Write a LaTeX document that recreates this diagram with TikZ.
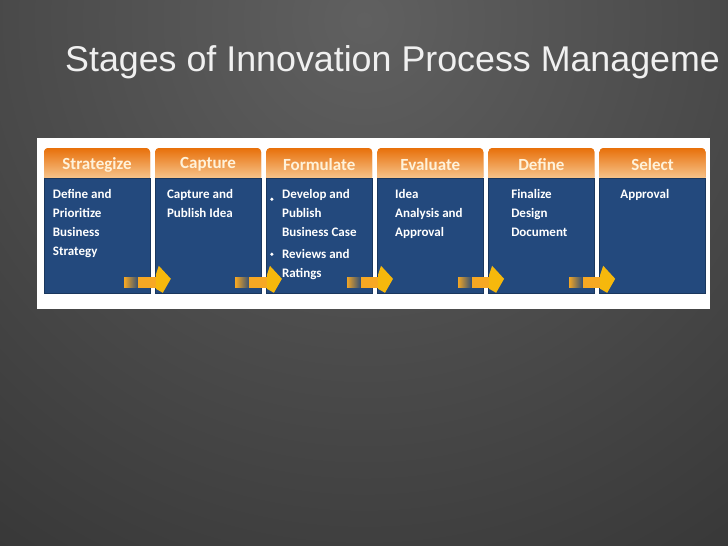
\documentclass[tikz,border=0pt]{standalone}
\usepackage{fontspec}
\setmainfont{Liberation Sans}
\newfontfamily\stagefont{Carlito}
\usepackage{tikz}
\usetikzlibrary{positioning,calc,fadings}

\definecolor{bgdark}{HTML}{282828}
\definecolor{bglight}{HTML}{606060}
\definecolor{panelblue}{HTML}{23497D}
\definecolor{headtop}{HTML}{E8700A}
\definecolor{headbot}{HTML}{F8CC98}
\definecolor{headtext}{HTML}{FFF2DA}
\definecolor{arrowgold}{HTML}{F6B80C}
\definecolor{arrowtail}{HTML}{F7A823}

\tikzset{
  stagehead/.style={fill=headtop, top color=headtop, bottom color=headbot,
    minimum width=106pt, minimum height=33pt, inner sep=0pt, rounded corners=4pt,
    text=headtext, font=\stagefont\bfseries\fontsize{17}{17}\selectfont},
  stagebody/.style={fill=panelblue, draw=panelblue!75!black, line width=0.6pt,
    minimum width=106pt, minimum height=115pt, inner sep=0pt},
  stagetext/.style={anchor=north west, align=left, inner sep=0pt, text=white,
    font=\stagefont\bfseries\fontsize{13}{19}\selectfont},
  bulletdot/.style={fill=white, circle, inner sep=0pt, minimum size=3.5pt},
}

% tail and head of the yellow arrow from one stage to the next
\newcommand\stagearrow[2]{%
  \fill[arrowtail, path fading=east] ($(#1.south east)+(-26,-17)$) rectangle ($(#1.south east)+(-11,-6)$);
  \fill[arrowtail] ($(#1.south east)+(-12,-17)$) rectangle ($(#2.south west)+(3,-6)$);
  \fill[arrowgold] ($(#2.south west)+(1,-19)$) -- ($(#2.south west)+(4,-28)$) -- ($(#2.south west)+(16,-15)$)
    -- ($(#2.south west)+(8,-1)$) -- ($(#2.south west)+(1,-5)$) -- cycle;
}

\begin{document}
\begin{tikzpicture}[x=1pt,y=-1pt]
\useasboundingbox (0,0) rectangle (728,546);
\fill[bgdark] (0,0) rectangle (728,546);
\begin{scope}
\clip (0,0) rectangle (728,546);
\shade[inner color=bglight, outer color=bgdark] (364,20) ellipse (900 and 900);
\end{scope}

\node[anchor=base west, inner sep=0pt, text=white!94!black, font=\fontsize{35.8}{40}\selectfont] (title) at (65,71) {Stages of Innovation Process Manageme};

\fill[white] (37,138) rectangle (710,309);

% headers
\node[stagehead] (h1) at (97,164.5) {Strategize};
\node[stagehead, right=4.7pt of h1] (h2) {Capture};
\node[stagehead, right=4.7pt of h2] (h3) {Formulate};
\node[stagehead, right=4.7pt of h3] (h4) {Evaluate};
\node[stagehead, right=4.7pt of h4] (h5) {Define};
\node[stagehead, right=4.7pt of h5] (h6) {Select};

% bodies
\node[stagebody, below=-3pt of h1] (b1) {};
\node[stagebody, below=-3pt of h2] (b2) {};
\node[stagebody, below=-3pt of h3] (b3) {};
\node[stagebody, below=-3pt of h4] (b4) {};
\node[stagebody, below=-3pt of h5] (b5) {};
\node[stagebody, below=-3pt of h6] (b6) {};

% texts
\node[stagetext] (t1) at ($(b1.north west)+(9,11)$) {Define and\\Prioritize\\Business\\Strategy};
\node[stagetext] (t2) at ($(b2.north west)+(12,11)$) {Capture and\\Publish Idea};
\node[stagetext] (t3) at ($(b3.north west)+(16,11)$) {Develop and\\Publish\\Business Case\\[3pt]Reviews and\\Ratings};
\node[bulletdot] (p1) at ($(b3.north west)+(6,21)$) {};
\node[bulletdot] (p2) at ($(b3.north west)+(6,76)$) {};
\node[stagetext] (t4) at ($(b4.north west)+(18,11)$) {Idea\\Analysis and\\Approval};
\node[stagetext] (t5) at ($(b5.north west)+(23,11)$) {Finalize\\Design\\Document};
\node[stagetext] (t6) at ($(b6.north west)+(21,11)$) {Approval};

% arrows
\stagearrow{b1}{b2}
\stagearrow{b2}{b3}
\stagearrow{b3}{b4}
\stagearrow{b4}{b5}
\stagearrow{b5}{b6}
\end{tikzpicture}
\end{document}
